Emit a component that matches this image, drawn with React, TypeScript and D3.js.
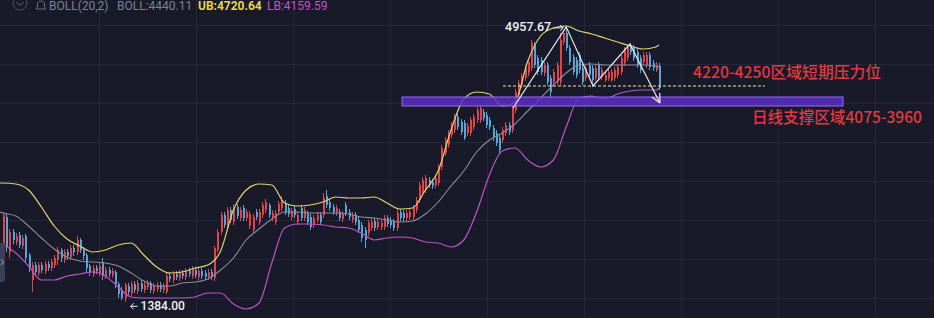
import React from 'react';
import * as d3 from 'd3';

const W = 934;
const H = 318;

// OHLC (price units)
const opens = [2122,2486,2031,2291,2161,2252,2109,2239,1992,1667,
 1862,1758,1862,1784,1875,1823,1862,1927,2057,1927,
 2031,1966,2083,2031,2187,2057,1992,1849,1745,1823,
 1758,1901,1719,1797,1732,1771,1615,1537,1433,1589,
 1498,1615,1524,1628,1537,1576,1628,1524,1550,1602,
 1537,1511,1719,1667,1745,1693,1758,1706,1784,1719,
 1797,1706,1784,1758,1706,1771,1693,2057,2291,2512,
 2356,2577,2421,2616,2473,2603,2473,2369,2317,2551,
 2421,2512,2577,2642,2473,2421,2551,2603,2668,2603,
 2486,2590,2421,2603,2473,2525,2486,2382,2447,2512,
 2512,2759,2681,2616,2538,2551,2460,2642,2551,2447,
 2512,2447,2382,2317,2278,2343,2434,2356,2356,2356,
 2473,2447,2421,2343,2551,2538,2473,2486,2486,2577,
 2707,2811,2837,2967,2941,2902,2928,3136,3318,3422,
 3552,3617,3786,3721,3708,3578,3578,3656,3747,3747,
 3851,3812,3747,3643,3578,3513,3487,3578,3682,3617,
 3877,4072,4202,4293,4358,4423,4722,4553,4527,4358,
 4462,4293,4241,4241,4241,4761,4878,4683,4566,4527,
 4592,4423,4293,4462,4423,4293,4462,4306,4267,4293,
 4267,4293,4332,4371,4488,4553,4722,4683,4631,4553,
 4501,4462,4592,4488,4397,4449];

const closes = [2512,2096,2291,2187,2239,2122,2213,1953,1823,1862,
 1771,1862,1797,1875,1823,1901,1953,2057,1953,2031,
 1979,2083,2031,2187,2057,1979,1823,1771,1823,1784,
 1849,1719,1797,1745,1784,1615,1485,1433,1602,1511,
 1615,1537,1628,1550,1602,1628,1537,1589,1602,1550,
 1589,1719,1680,1745,1706,1758,1719,1784,1745,1810,
 1732,1784,1719,1706,1771,1706,2083,2291,2512,2382,
 2577,2447,2616,2499,2577,2473,2551,2525,2486,2486,
 2551,2642,2681,2512,2538,2538,2655,2707,2551,2525,
 2564,2512,2512,2473,2577,2421,2356,2473,2512,2421,
 2733,2642,2603,2551,2603,2473,2525,2538,2486,2512,
 2421,2317,2213,2187,2408,2421,2343,2421,2408,2473,
 2395,2382,2343,2538,2473,2473,2538,2551,2603,2707,
 2902,2967,2993,2902,2889,2993,3136,3383,3487,3578,
 3682,3786,3656,3591,3513,3669,3747,3786,3877,3903,
 3773,3682,3656,3513,3448,3357,3617,3682,3591,3903,
 4111,4228,4319,4423,4501,4748,4462,4371,4371,4462,
 4241,4111,4371,4462,4787,4878,4683,4501,4371,4332,
 4397,4241,4423,4332,4267,4423,4306,4397,4332,4371,
 4371,4397,4436,4553,4657,4696,4631,4553,4462,4397,
 4592,4592,4436,4423,4462,4163];

const highs = [2551,2525,2330,2330,2278,2291,2252,2265,2018,1901,
 1901,1901,1901,1914,1914,1940,1992,2096,2083,2070,
 2070,2122,2122,2239,2213,2096,2018,1875,1862,1862,
 1901,1953,1836,1836,1823,1797,1641,1576,1628,1628,
 1654,1654,1667,1667,1641,1667,1654,1628,1641,1641,
 1628,1758,1771,1784,1784,1797,1797,1823,1823,1849,
 1836,1823,1823,1797,1810,1810,2109,2330,2551,2551,
 2616,2616,2655,2655,2616,2642,2590,2564,2525,2590,
 2590,2681,2720,2668,2577,2577,2694,2759,2707,2642,
 2603,2629,2551,2642,2616,2564,2525,2512,2551,2551,
 2798,2837,2720,2655,2642,2590,2564,2681,2590,2551,
 2551,2486,2421,2356,2447,2460,2473,2460,2447,2512,
 2512,2486,2460,2577,2590,2577,2577,2590,2642,2746,
 2941,3006,3032,3006,2980,3032,3175,3422,3526,3617,
 3721,3825,3825,3760,3747,3708,3786,3825,3916,3942,
 3890,3851,3786,3682,3617,3552,3656,3721,3721,3942,
 4150,4267,4358,4462,4540,4787,4761,4592,4566,4501,
 4501,4332,4410,4501,4878,4917,4957.67,4722,4605,4566,
 4631,4462,4462,4501,4462,4462,4501,4436,4371,4410,
 4410,4436,4475,4592,4696,4735,4748,4722,4670,4592,
 4631,4631,4631,4527,4501,4488];

const lows = [2083,2031,1953,2135,2122,2083,2070,1901,1771,1511,
 1719,1719,1758,1745,1784,1784,1823,1862,1901,1888,
 1927,1927,1979,1992,2018,1927,1758,1719,1706,1745,
 1719,1667,1680,1706,1693,1563,1433,1407,1384,1472,
 1459,1498,1485,1511,1498,1537,1498,1485,1511,1511,
 1498,1485,1641,1628,1667,1654,1680,1667,1706,1680,
 1693,1667,1680,1667,1667,1667,1654,2031,2252,2343,
 2317,2408,2382,2460,2434,2434,2434,2330,2278,2447,
 2382,2473,2538,2473,2434,2382,2512,2564,2512,2486,
 2447,2473,2382,2434,2434,2382,2317,2343,2408,2382,
 2473,2603,2564,2512,2499,2434,2421,2499,2447,2408,
 2382,2278,2161,2083,2239,2304,2304,2317,2317,2317,
 2356,2343,2304,2304,2434,2434,2434,2447,2447,2538,
 2668,2772,2798,2863,2850,2863,2889,3097,3279,3383,
 3513,3578,3617,3552,3487,3539,3539,3617,3708,3708,
 3734,3643,3617,3474,3409,3318,3448,3539,3552,3578,
 3838,4033,4163,4254,4319,4384,4423,4332,4332,4319,
 4202,4046,4202,4202,4202,4722,4644,4462,4332,4293,
 4358,4202,4254,4293,4176,4254,4267,4267,4241,4254,
 4241,4254,4293,4332,4449,4514,4592,4514,4423,4358,
 4462,4423,4397,4384,4371,4137];

// BOLL(20,2) at every 4th bar
const bandIndex = [-1, ...d3.range(0, 205, 4), 205];
const upperBand = [2928,2928,2915,2837,2616,2369,2200,2109,2031,2057,
 2122,2148,1992,1836,1758,1771,1823,1862,2044,2577,
 2837,2915,2902,2668,2629,2642,2681,2746,2733,2733,
 2746,2668,2590,2603,2837,3084,3617,4020,4111,4085,
 3929,3981,4514,4839,4943,4969,4904,4865,4813,4761,
 4709,4670,4696,4720.64];
const middleBand = [2551,2538,2499,2369,2213,2070,1966,1914,1901,1888,
 1849,1758,1654,1589,1589,1628,1641,1680,1797,1953,
 2187,2330,2460,2551,2551,2538,2538,2538,2525,2486,
 2473,2447,2421,2434,2525,2681,2889,3084,3331,3487,
 3578,3695,3864,4033,4202,4358,4462,4475,4462,4462,
 4462,4462,4449,4440.11];
const lowerBand = [2135,2122,2018,1849,1667,1667,1719,1745,1771,1719,
 1576,1446,1433,1433,1433,1433,1446,1498,1498,1355,
 1290,1368,1888,2343,2395,2395,2382,2356,2343,2278,
 2187,2213,2226,2213,2161,2148,2096,2187,2551,3032,
 3344,3383,3227,3136,3227,3656,4033,4059,4020,4085,
 4124,4137,4137,4159.59];

// annotations
const highMark = { idx: 176, price: 4957.67 };
const lowMark = { idx: 38, price: 1384.0 };
const resistance = { price: 4189, from: 156.25, to: 238.1 };
const supportZone = { top: 4046, bottom: 3929, from: 124.7, to: 262.5 };
const swingIdx = [159.4, 176, 184.4, 195.9, 205.3];
const swingPrice = [3903, 4957.67, 4189, 4735, 3968];
const resistanceText = '4220-4250区域短期压力位';
const supportText = '日线支撑区域4075-3960';

const BG = '#181a29';
const UP = '#e0434a';
const DOWN = '#58a4d6';

export default function App() {
  const x = d3.scaleLinear().domain([0, 205]).range([3, 659]);
  const y = d3.scaleLinear().domain([1173, 5307]).range([318, 0]);

  const bandLine = (vals: number[]) =>
    d3.line<number>()
      .x((_, i) => x(bandIndex[i]))
      .y((v) => y(v))
      .curve(d3.curveMonotoneX)(vals) || '';

  const swingPts = swingIdx.map((s, i) => [x(s), y(swingPrice[i])] as [number, number]);
  const swingPath = d3.line()(swingPts) || '';
  const e = swingPts[swingPts.length - 1];
  const p = swingPts[swingPts.length - 2];
  const ang = Math.atan2(e[1] - p[1], e[0] - p[0]);
  const head = (da: number) => [e[0] - 10 * Math.cos(ang + da), e[1] - 10 * Math.sin(ang + da)];
  const h1 = head(0.45);
  const h2 = head(-0.45);

  const hGrid = d3.range(25, H, 39);
  const vGrid = d3.range(99, W, 97);

  const hx = x(highMark.idx);
  const hy = y(highMark.price);
  const lx = x(lowMark.idx);
  const ly = y(lowMark.price);

  const last = bandIndex.length - 1;
  const font = 'Roboto, "Noto Sans", sans-serif';
  const cjk = '"Noto Sans CJK SC", "Noto Sans", sans-serif';

  return (
    <svg width={W} height={H} style={{ position: 'fixed', left: 0, top: 0, display: 'block' }}>
      <rect x={0} y={0} width={W} height={H} fill={BG} />
      <g stroke="#242738" strokeWidth={1} shapeRendering="crispEdges">
        {hGrid.map((g) => <line key={'h' + g} x1={0} x2={W} y1={g + 0.5} y2={g + 0.5} />)}
        {vGrid.map((g) => <line key={'v' + g} x1={g + 0.5} x2={g + 0.5} y1={0} y2={H} />)}
      </g>

      <g shapeRendering="crispEdges">
        {opens.map((o, i) => {
          const c = closes[i];
          const col = c >= o ? UP : DOWN;
          const cx = Math.round(x(i));
          const top = y(Math.max(o, c));
          const bot = y(Math.min(o, c));
          return (
            <g key={i}>
              <line x1={cx + 0.5} x2={cx + 0.5} y1={y(highs[i])} y2={y(lows[i])} stroke={col} strokeWidth={1} />
              <rect x={cx - 0.5} y={top} width={2} height={Math.max(1, bot - top)} fill={col} />
            </g>
          );
        })}
      </g>

      <path d={bandLine(middleBand)} fill="none" stroke="#8a8d9c" strokeWidth={1.1} />
      <path d={bandLine(upperBand)} fill="none" stroke="#e4d56c" strokeWidth={1.2} />
      <path d={bandLine(lowerBand)} fill="none" stroke="#bd55c4" strokeWidth={1.2} />

      <rect
        x={x(supportZone.from)}
        y={y(supportZone.top)}
        width={x(supportZone.to) - x(supportZone.from)}
        height={y(supportZone.bottom) - y(supportZone.top)}
        fill="#5a2fc2"
        fillOpacity={0.85}
        stroke="#9669ff"
        strokeWidth={1}
      />

      <line
        x1={x(resistance.from)}
        x2={x(resistance.to)}
        y1={y(resistance.price)}
        y2={y(resistance.price)}
        stroke="#f0e6a8"
        strokeWidth={1}
        strokeDasharray="3,2"
      />

      <path d={swingPath} fill="none" stroke="#eceef5" strokeWidth={1.2} />
      <line x1={e[0]} y1={e[1]} x2={h1[0]} y2={h1[1]} stroke="#eceef5" strokeWidth={1.2} />
      <line x1={e[0]} y1={e[1]} x2={h2[0]} y2={h2[1]} stroke="#eceef5" strokeWidth={1.2} />

      {/* high label */}
      <text x={hx - 15} y={hy + 4.5} textAnchor="end" fill="#f2f2f5" fontSize={12.5} fontWeight={500} fontFamily={font}>
        {highMark.price.toFixed(2)}
      </text>
      <line x1={hx - 13} x2={hx - 3} y1={hy + 1} y2={hy + 1} stroke="#f2f2f5" strokeWidth={1} />
      <path d={`M${hx - 6},${hy - 2} L${hx - 3},${hy + 1} L${hx - 6},${hy + 4}`} fill="none" stroke="#f2f2f5" strokeWidth={1} />

      {/* low label */}
      <line x1={lx + 6} x2={lx + 13} y1={ly + 4.5} y2={ly + 4.5} stroke="#f2f2f5" strokeWidth={1} />
      <path d={`M${lx + 9},${ly + 1.5} L${lx + 6},${ly + 4.5} L${lx + 9},${ly + 7.5}`} fill="none" stroke="#f2f2f5" strokeWidth={1} />
      <text x={lx + 16} y={ly + 8} fill="#f2f2f5" fontSize={12} fontWeight={500} fontFamily={font}>
        {lowMark.price.toFixed(2)}
      </text>

      {/* annotations */}
      <text x={693} y={78} fill="#e0393e" fontSize={16} fontWeight={500} fontFamily={cjk} textLength={188} lengthAdjust="spacingAndGlyphs">
        {resistanceText}
      </text>
      <text x={752} y={123} fill="#e0393e" fontSize={16} fontWeight={500} fontFamily={cjk} textLength={170} lengthAdjust="spacingAndGlyphs">
        {supportText}
      </text>

      {/* legend */}
      <circle cx={20} cy={3} r={7} fill="none" stroke="#4f5366" strokeWidth={1} />
      <path d="M16.5,2 L20,5.5 L23.5,2" fill="none" stroke="#6a6e80" strokeWidth={1} />
      <path d="M36,9 L46,9 L44.5,7 L44.5,3 Q41,-1 37.5,3 L37.5,7 Z" fill="none" stroke="#6a6e80" strokeWidth={1} />
      <text x={49} y={10} fill="#7d8194" fontSize={12} fontFamily={font}>BOLL(20,2)</text>
      <text x={117} y={10} fill="#7d8194" fontSize={12} fontFamily={font}>
        {'BOLL:' + middleBand[last].toFixed(2)}
      </text>
      <text x={198} y={10} fill="#e8d64a" fontSize={12} fontWeight={700} fontFamily={font}>
        {'UB:' + upperBand[last].toFixed(2)}
      </text>
      <text x={267} y={10} fill="#c652c6" fontSize={12} fontFamily={font}>
        {'LB:' + lowerBand[last].toFixed(2)}
      </text>

      {/* left side tab */}
      <rect x={-3} y={243} width={8} height={39} rx={2} fill="#3c4054" />
      <path d="M1,259 L3.5,262 L1,265" fill="none" stroke="#a0a4b5" strokeWidth={1} />
    </svg>
  );
}
